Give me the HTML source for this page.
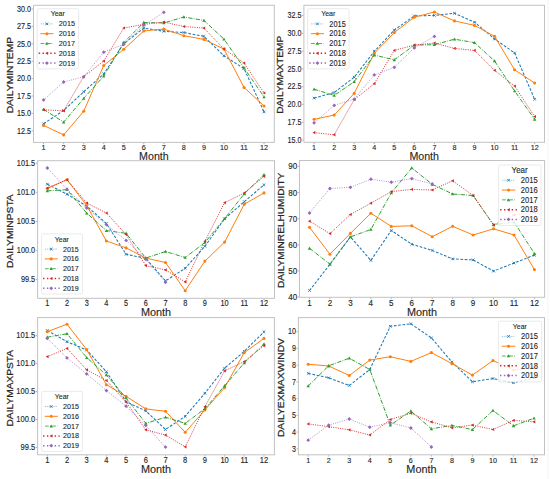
<!DOCTYPE html>
<html><head><meta charset="utf-8"><title>Monthly weather</title>
<style>
html,body{margin:0;padding:0;background:#fff;}
body{width:550px;height:479px;overflow:hidden;}
svg{display:block;font-family:"Liberation Sans",sans-serif;}
.t{stroke:#262626;stroke-width:0.12px;}
.yl{stroke:#262626;stroke-width:0.25px;}
.mo{stroke:#262626;stroke-width:0.12px;}
.lt{stroke:#262626;stroke-width:0.1px;}
</style></head>
<body>
<svg width="550" height="479" viewBox="0 0 550 479">
<rect x="0" y="0" width="550" height="479" fill="#fff"/>
<path d="M547.9 0V479" stroke="#f1f1f1" stroke-width="0.8"/>
<rect x="33.5" y="5.3" width="240.8" height="137.1" fill="#fff" stroke="#c2c2c2" stroke-width="1"/>
<path d="M43.6 142.9V144.2" stroke="#999" stroke-width="0.75"/>
<text transform="translate(43.6 150) scale(1 1.12)" text-anchor="middle" font-size="7.25" fill="#262626" class="t">1</text>
<path d="M63.64 142.9V144.2" stroke="#999" stroke-width="0.75"/>
<text transform="translate(63.64 150) scale(1 1.12)" text-anchor="middle" font-size="7.25" fill="#262626" class="t">2</text>
<path d="M83.68 142.9V144.2" stroke="#999" stroke-width="0.75"/>
<text transform="translate(83.68 150) scale(1 1.12)" text-anchor="middle" font-size="7.25" fill="#262626" class="t">3</text>
<path d="M103.72 142.9V144.2" stroke="#999" stroke-width="0.75"/>
<text transform="translate(103.72 150) scale(1 1.12)" text-anchor="middle" font-size="7.25" fill="#262626" class="t">4</text>
<path d="M123.76 142.9V144.2" stroke="#999" stroke-width="0.75"/>
<text transform="translate(123.76 150) scale(1 1.12)" text-anchor="middle" font-size="7.25" fill="#262626" class="t">5</text>
<path d="M143.8 142.9V144.2" stroke="#999" stroke-width="0.75"/>
<text transform="translate(143.8 150) scale(1 1.12)" text-anchor="middle" font-size="7.25" fill="#262626" class="t">6</text>
<path d="M163.84 142.9V144.2" stroke="#999" stroke-width="0.75"/>
<text transform="translate(163.84 150) scale(1 1.12)" text-anchor="middle" font-size="7.25" fill="#262626" class="t">7</text>
<path d="M183.88 142.9V144.2" stroke="#999" stroke-width="0.75"/>
<text transform="translate(183.88 150) scale(1 1.12)" text-anchor="middle" font-size="7.25" fill="#262626" class="t">8</text>
<path d="M203.92 142.9V144.2" stroke="#999" stroke-width="0.75"/>
<text transform="translate(203.92 150) scale(1 1.12)" text-anchor="middle" font-size="7.25" fill="#262626" class="t">9</text>
<path d="M223.96 142.9V144.2" stroke="#999" stroke-width="0.75"/>
<text transform="translate(223.96 150) scale(1 1.12)" text-anchor="middle" font-size="7.25" fill="#262626" class="t">10</text>
<path d="M244 142.9V144.2" stroke="#999" stroke-width="0.75"/>
<text transform="translate(244 150) scale(1 1.12)" text-anchor="middle" font-size="7.25" fill="#262626" class="t">11</text>
<path d="M264.04 142.9V144.2" stroke="#999" stroke-width="0.75"/>
<text transform="translate(264.04 150) scale(1 1.12)" text-anchor="middle" font-size="7.25" fill="#262626" class="t">12</text>
<path d="M33 130.8H31.7" stroke="#999" stroke-width="0.75"/>
<text transform="translate(31.1 133.56) scale(1 1.2)" text-anchor="end" font-size="7.25" fill="#262626" class="t">12.5</text>
<path d="M33 113.4H31.7" stroke="#999" stroke-width="0.75"/>
<text transform="translate(31.1 116.16) scale(1 1.2)" text-anchor="end" font-size="7.25" fill="#262626" class="t">15.0</text>
<path d="M33 96H31.7" stroke="#999" stroke-width="0.75"/>
<text transform="translate(31.1 98.75) scale(1 1.2)" text-anchor="end" font-size="7.25" fill="#262626" class="t">17.5</text>
<path d="M33 78.6H31.7" stroke="#999" stroke-width="0.75"/>
<text transform="translate(31.1 81.35) scale(1 1.2)" text-anchor="end" font-size="7.25" fill="#262626" class="t">20.0</text>
<path d="M33 61.2H31.7" stroke="#999" stroke-width="0.75"/>
<text transform="translate(31.1 63.96) scale(1 1.2)" text-anchor="end" font-size="7.25" fill="#262626" class="t">22.5</text>
<path d="M33 43.8H31.7" stroke="#999" stroke-width="0.75"/>
<text transform="translate(31.1 46.55) scale(1 1.2)" text-anchor="end" font-size="7.25" fill="#262626" class="t">25.0</text>
<path d="M33 26.4H31.7" stroke="#999" stroke-width="0.75"/>
<text transform="translate(31.1 29.15) scale(1 1.2)" text-anchor="end" font-size="7.25" fill="#262626" class="t">27.5</text>
<path d="M33 9H31.7" stroke="#999" stroke-width="0.75"/>
<text transform="translate(31.1 11.75) scale(1 1.2)" text-anchor="end" font-size="7.25" fill="#262626" class="t">30.0</text>
<text transform="translate(13 75.15) rotate(-90)" text-anchor="middle" font-size="9.8" fill="#262626" textLength="76.4" lengthAdjust="spacingAndGlyphs" class="yl">DAILYMINTEMP</text>
<text x="153.9" y="160" text-anchor="middle" font-size="10.2" fill="#262626" textLength="29.6" lengthAdjust="spacingAndGlyphs" class="mo">Month</text>
<g clip-path="none">
<path d="M43.6 123.7 L63.64 110.5 L83.68 91.8 L103.72 73.9 L123.76 43.7 L143.8 28.1 L163.84 31.3 L183.88 32.5 L203.92 36.4 L223.96 55.8 L244 68.5 L264.04 111.9" fill="none" stroke="#1f77b4" stroke-width="1.05" stroke-linejoin="round" stroke-linecap="butt" stroke-dasharray="2.7 1.6"/>
<path d="M42.3 122.4L44.9 125M42.3 125L44.9 122.4" stroke="#1f77b4" stroke-width="0.9" fill="none"/>
<path d="M62.34 109.2L64.94 111.8M62.34 111.8L64.94 109.2" stroke="#1f77b4" stroke-width="0.9" fill="none"/>
<path d="M82.38 90.5L84.98 93.1M82.38 93.1L84.98 90.5" stroke="#1f77b4" stroke-width="0.9" fill="none"/>
<path d="M102.42 72.6L105.02 75.2M102.42 75.2L105.02 72.6" stroke="#1f77b4" stroke-width="0.9" fill="none"/>
<path d="M122.46 42.4L125.06 45M122.46 45L125.06 42.4" stroke="#1f77b4" stroke-width="0.9" fill="none"/>
<path d="M142.5 26.8L145.1 29.4M142.5 29.4L145.1 26.8" stroke="#1f77b4" stroke-width="0.9" fill="none"/>
<path d="M162.54 30L165.14 32.6M162.54 32.6L165.14 30" stroke="#1f77b4" stroke-width="0.9" fill="none"/>
<path d="M182.58 31.2L185.18 33.8M182.58 33.8L185.18 31.2" stroke="#1f77b4" stroke-width="0.9" fill="none"/>
<path d="M202.62 35.1L205.22 37.7M202.62 37.7L205.22 35.1" stroke="#1f77b4" stroke-width="0.9" fill="none"/>
<path d="M222.66 54.5L225.26 57.1M222.66 57.1L225.26 54.5" stroke="#1f77b4" stroke-width="0.9" fill="none"/>
<path d="M242.7 67.2L245.3 69.8M242.7 69.8L245.3 67.2" stroke="#1f77b4" stroke-width="0.9" fill="none"/>
<path d="M262.74 110.6L265.34 113.2M262.74 113.2L265.34 110.6" stroke="#1f77b4" stroke-width="0.9" fill="none"/>
<path d="M43.6 125.4 L63.64 134.9 L83.68 111.3 L103.72 65.5 L123.76 49.3 L143.8 30.9 L163.84 29.1 L183.88 35.7 L203.92 39.4 L223.96 49.1 L244 87.4 L264.04 106" fill="none" stroke="#ff7f0e" stroke-width="1.0" stroke-linejoin="round" stroke-linecap="butt"/>
<circle cx="43.6" cy="125.4" r="1.55" fill="#ff7f0e"/>
<circle cx="63.64" cy="134.9" r="1.55" fill="#ff7f0e"/>
<circle cx="83.68" cy="111.3" r="1.55" fill="#ff7f0e"/>
<circle cx="103.72" cy="65.5" r="1.55" fill="#ff7f0e"/>
<circle cx="123.76" cy="49.3" r="1.55" fill="#ff7f0e"/>
<circle cx="143.8" cy="30.9" r="1.55" fill="#ff7f0e"/>
<circle cx="163.84" cy="29.1" r="1.55" fill="#ff7f0e"/>
<circle cx="183.88" cy="35.7" r="1.55" fill="#ff7f0e"/>
<circle cx="203.92" cy="39.4" r="1.55" fill="#ff7f0e"/>
<circle cx="223.96" cy="49.1" r="1.55" fill="#ff7f0e"/>
<circle cx="244" cy="87.4" r="1.55" fill="#ff7f0e"/>
<circle cx="264.04" cy="106" r="1.55" fill="#ff7f0e"/>
<path d="M43.6 109.4 L63.64 122.1 L83.68 98.4 L103.72 76.2 L123.76 42.5 L143.8 22.5 L163.84 23 L183.88 17 L203.92 20.4 L223.96 39.1 L244 67.8 L264.04 96.9" fill="none" stroke="#2ca02c" stroke-width="1.0" stroke-linejoin="round" stroke-linecap="butt" stroke-dasharray="4.2 1.3 0.8 1.3"/>
<path d="M43.6 107.7L45.3 110.76L41.9 110.76Z" fill="#2ca02c"/>
<path d="M63.64 120.4L65.34 123.46L61.94 123.46Z" fill="#2ca02c"/>
<path d="M83.68 96.7L85.38 99.76L81.98 99.76Z" fill="#2ca02c"/>
<path d="M103.72 74.5L105.42 77.56L102.02 77.56Z" fill="#2ca02c"/>
<path d="M123.76 40.8L125.46 43.86L122.06 43.86Z" fill="#2ca02c"/>
<path d="M143.8 20.8L145.5 23.86L142.1 23.86Z" fill="#2ca02c"/>
<path d="M163.84 21.3L165.54 24.36L162.14 24.36Z" fill="#2ca02c"/>
<path d="M183.88 15.3L185.58 18.36L182.18 18.36Z" fill="#2ca02c"/>
<path d="M203.92 18.7L205.62 21.76L202.22 21.76Z" fill="#2ca02c"/>
<path d="M223.96 37.4L225.66 40.46L222.26 40.46Z" fill="#2ca02c"/>
<path d="M244 66.1L245.7 69.16L242.3 69.16Z" fill="#2ca02c"/>
<path d="M264.04 95.2L265.74 98.26L262.34 98.26Z" fill="#2ca02c"/>
<path d="M43.6 109.8 L63.64 110.8 L83.68 76.6 L103.72 61.1 L123.76 28 L143.8 24.4 L163.84 22.1 L183.88 26.5 L203.92 28.1 L223.96 48.9 L244 63 L264.04 93" fill="none" stroke="#d62728" stroke-width="0.95" stroke-linejoin="round" stroke-linecap="butt" stroke-dasharray="1.0 1.3"/>
<path d="M42 109.8L44.88 108.2L44.88 111.4Z" fill="#d62728"/>
<path d="M62.04 110.8L64.92 109.2L64.92 112.4Z" fill="#d62728"/>
<path d="M82.08 76.6L84.96 75L84.96 78.2Z" fill="#d62728"/>
<path d="M102.12 61.1L105 59.5L105 62.7Z" fill="#d62728"/>
<path d="M122.16 28L125.04 26.4L125.04 29.6Z" fill="#d62728"/>
<path d="M142.2 24.4L145.08 22.8L145.08 26Z" fill="#d62728"/>
<path d="M162.24 22.1L165.12 20.5L165.12 23.7Z" fill="#d62728"/>
<path d="M182.28 26.5L185.16 24.9L185.16 28.1Z" fill="#d62728"/>
<path d="M202.32 28.1L205.2 26.5L205.2 29.7Z" fill="#d62728"/>
<path d="M222.36 48.9L225.24 47.3L225.24 50.5Z" fill="#d62728"/>
<path d="M242.4 63L245.28 61.4L245.28 64.6Z" fill="#d62728"/>
<path d="M262.44 93L265.32 91.4L265.32 94.6Z" fill="#d62728"/>
<path d="M43.6 99.9 L63.64 82 L83.68 76.8 L103.72 52.2 L123.76 44.4 L143.8 25.2 L163.84 12.3" fill="none" stroke="#9467bd" stroke-width="0.8" stroke-linejoin="round" stroke-linecap="butt" stroke-dasharray="0.9 1.4"/>
<path d="M43.6 98L45.5 99.9L43.6 101.8L41.7 99.9Z" fill="#9467bd"/>
<path d="M63.64 80.1L65.54 82L63.64 83.9L61.74 82Z" fill="#9467bd"/>
<path d="M83.68 74.9L85.58 76.8L83.68 78.7L81.78 76.8Z" fill="#9467bd"/>
<path d="M103.72 50.3L105.62 52.2L103.72 54.1L101.82 52.2Z" fill="#9467bd"/>
<path d="M123.76 42.5L125.66 44.4L123.76 46.3L121.86 44.4Z" fill="#9467bd"/>
<path d="M143.8 23.3L145.7 25.2L143.8 27.1L141.9 25.2Z" fill="#9467bd"/>
<path d="M163.84 10.4L165.74 12.3L163.84 14.2L161.94 12.3Z" fill="#9467bd"/>
</g>
<rect x="37.2" y="8.7" width="41.4" height="60.2" rx="1.6" fill="#fff" fill-opacity="0.82" stroke="#dcdcdc" stroke-width="0.6"/>
<text transform="translate(57.7 16.42) scale(1 1.08)" text-anchor="middle" font-size="7.0" fill="#262626" class="lt">Year</text>
<path d="M40.8 23.9H53" stroke="#1f77b4" stroke-width="1" stroke-dasharray="1.0 1.1" stroke-opacity="0.55"/>
<path d="M45.6 22.6L48.2 25.2M45.6 25.2L48.2 22.6" stroke="#1f77b4" stroke-width="0.9" fill="none"/>
<text transform="translate(58.8 26.49) scale(1 1.1)" font-size="7.3" fill="#262626" class="lt">2015</text>
<path d="M40.4 33.7H53.5" stroke="#ff7f0e" stroke-width="1.0"/>
<circle cx="46.9" cy="33.7" r="1.55" fill="#ff7f0e"/>
<text transform="translate(58.8 36.29) scale(1 1.1)" font-size="7.3" fill="#262626" class="lt">2016</text>
<path d="M40.6 43.5H53.2" stroke="#2ca02c" stroke-width="1.0" stroke-dasharray="3.7 1.3 0.9 1.3" stroke-opacity="0.8"/>
<path d="M46.9 41.8L48.6 44.86L45.2 44.86Z" fill="#2ca02c"/>
<text transform="translate(58.8 46.09) scale(1 1.1)" font-size="7.3" fill="#262626" class="lt">2017</text>
<path d="M38.7 53.3H55.5" stroke="#d62728" stroke-width="1.5" stroke-dasharray="1.4 2.45"/>
<path d="M45.3 53.3L48.18 51.7L48.18 54.9Z" fill="#d62728"/>
<text transform="translate(58.8 55.89) scale(1 1.1)" font-size="7.3" fill="#262626" class="lt">2018</text>
<path d="M38.7 63.1H55.5" stroke="#9467bd" stroke-width="1.5" stroke-dasharray="1.4 2.45"/>
<path d="M46.9 61.2L48.8 63.1L46.9 65L45 63.1Z" fill="#9467bd"/>
<text transform="translate(58.8 65.69) scale(1 1.1)" font-size="7.3" fill="#262626" class="lt">2019</text>
<rect x="303.9" y="5.3" width="240.6" height="137" fill="#fff" stroke="#c2c2c2" stroke-width="1"/>
<path d="M314.1 142.8V144.1" stroke="#999" stroke-width="0.75"/>
<text transform="translate(314.1 150) scale(1 1.12)" text-anchor="middle" font-size="7.15" fill="#262626" class="t">1</text>
<path d="M334.15 142.8V144.1" stroke="#999" stroke-width="0.75"/>
<text transform="translate(334.15 150) scale(1 1.12)" text-anchor="middle" font-size="7.15" fill="#262626" class="t">2</text>
<path d="M354.2 142.8V144.1" stroke="#999" stroke-width="0.75"/>
<text transform="translate(354.2 150) scale(1 1.12)" text-anchor="middle" font-size="7.15" fill="#262626" class="t">3</text>
<path d="M374.25 142.8V144.1" stroke="#999" stroke-width="0.75"/>
<text transform="translate(374.25 150) scale(1 1.12)" text-anchor="middle" font-size="7.15" fill="#262626" class="t">4</text>
<path d="M394.3 142.8V144.1" stroke="#999" stroke-width="0.75"/>
<text transform="translate(394.3 150) scale(1 1.12)" text-anchor="middle" font-size="7.15" fill="#262626" class="t">5</text>
<path d="M414.35 142.8V144.1" stroke="#999" stroke-width="0.75"/>
<text transform="translate(414.35 150) scale(1 1.12)" text-anchor="middle" font-size="7.15" fill="#262626" class="t">6</text>
<path d="M434.4 142.8V144.1" stroke="#999" stroke-width="0.75"/>
<text transform="translate(434.4 150) scale(1 1.12)" text-anchor="middle" font-size="7.15" fill="#262626" class="t">7</text>
<path d="M454.45 142.8V144.1" stroke="#999" stroke-width="0.75"/>
<text transform="translate(454.45 150) scale(1 1.12)" text-anchor="middle" font-size="7.15" fill="#262626" class="t">8</text>
<path d="M474.5 142.8V144.1" stroke="#999" stroke-width="0.75"/>
<text transform="translate(474.5 150) scale(1 1.12)" text-anchor="middle" font-size="7.15" fill="#262626" class="t">9</text>
<path d="M494.55 142.8V144.1" stroke="#999" stroke-width="0.75"/>
<text transform="translate(494.55 150) scale(1 1.12)" text-anchor="middle" font-size="7.15" fill="#262626" class="t">10</text>
<path d="M514.6 142.8V144.1" stroke="#999" stroke-width="0.75"/>
<text transform="translate(514.6 150) scale(1 1.12)" text-anchor="middle" font-size="7.15" fill="#262626" class="t">11</text>
<path d="M534.65 142.8V144.1" stroke="#999" stroke-width="0.75"/>
<text transform="translate(534.65 150) scale(1 1.12)" text-anchor="middle" font-size="7.15" fill="#262626" class="t">12</text>
<path d="M303.4 140.03H302.1" stroke="#999" stroke-width="0.75"/>
<text transform="translate(301.5 142.74) scale(1 1.2)" text-anchor="end" font-size="7.15" fill="#262626" class="t">15.0</text>
<path d="M303.4 122.25H302.1" stroke="#999" stroke-width="0.75"/>
<text transform="translate(301.5 124.97) scale(1 1.2)" text-anchor="end" font-size="7.15" fill="#262626" class="t">17.5</text>
<path d="M303.4 104.47H302.1" stroke="#999" stroke-width="0.75"/>
<text transform="translate(301.5 107.19) scale(1 1.2)" text-anchor="end" font-size="7.15" fill="#262626" class="t">20.0</text>
<path d="M303.4 86.7H302.1" stroke="#999" stroke-width="0.75"/>
<text transform="translate(301.5 89.42) scale(1 1.2)" text-anchor="end" font-size="7.15" fill="#262626" class="t">22.5</text>
<path d="M303.4 68.92H302.1" stroke="#999" stroke-width="0.75"/>
<text transform="translate(301.5 71.64) scale(1 1.2)" text-anchor="end" font-size="7.15" fill="#262626" class="t">25.0</text>
<path d="M303.4 51.15H302.1" stroke="#999" stroke-width="0.75"/>
<text transform="translate(301.5 53.87) scale(1 1.2)" text-anchor="end" font-size="7.15" fill="#262626" class="t">27.5</text>
<path d="M303.4 33.38H302.1" stroke="#999" stroke-width="0.75"/>
<text transform="translate(301.5 36.09) scale(1 1.2)" text-anchor="end" font-size="7.15" fill="#262626" class="t">30.0</text>
<path d="M303.4 15.6H302.1" stroke="#999" stroke-width="0.75"/>
<text transform="translate(301.5 18.32) scale(1 1.2)" text-anchor="end" font-size="7.15" fill="#262626" class="t">32.5</text>
<text transform="translate(283.3 74.85) rotate(-90)" text-anchor="middle" font-size="9.8" fill="#262626" textLength="78" lengthAdjust="spacingAndGlyphs" class="yl">DAILYMAXTEMP</text>
<text x="424.2" y="160" text-anchor="middle" font-size="10.2" fill="#262626" textLength="29.6" lengthAdjust="spacingAndGlyphs" class="mo">Month</text>
<g clip-path="none">
<path d="M314.1 98.1 L334.15 92.6 L354.2 77.2 L374.25 51.4 L394.3 30 L414.35 15.9 L434.4 15.4 L454.45 13.3 L474.5 22.2 L494.55 39 L514.6 52.9 L534.65 99.3" fill="none" stroke="#1f77b4" stroke-width="1.05" stroke-linejoin="round" stroke-linecap="butt" stroke-dasharray="2.7 1.6"/>
<path d="M312.8 96.8L315.4 99.4M312.8 99.4L315.4 96.8" stroke="#1f77b4" stroke-width="0.9" fill="none"/>
<path d="M332.85 91.3L335.45 93.9M332.85 93.9L335.45 91.3" stroke="#1f77b4" stroke-width="0.9" fill="none"/>
<path d="M352.9 75.9L355.5 78.5M352.9 78.5L355.5 75.9" stroke="#1f77b4" stroke-width="0.9" fill="none"/>
<path d="M372.95 50.1L375.55 52.7M372.95 52.7L375.55 50.1" stroke="#1f77b4" stroke-width="0.9" fill="none"/>
<path d="M393 28.7L395.6 31.3M393 31.3L395.6 28.7" stroke="#1f77b4" stroke-width="0.9" fill="none"/>
<path d="M413.05 14.6L415.65 17.2M413.05 17.2L415.65 14.6" stroke="#1f77b4" stroke-width="0.9" fill="none"/>
<path d="M433.1 14.1L435.7 16.7M433.1 16.7L435.7 14.1" stroke="#1f77b4" stroke-width="0.9" fill="none"/>
<path d="M453.15 12L455.75 14.6M453.15 14.6L455.75 12" stroke="#1f77b4" stroke-width="0.9" fill="none"/>
<path d="M473.2 20.9L475.8 23.5M473.2 23.5L475.8 20.9" stroke="#1f77b4" stroke-width="0.9" fill="none"/>
<path d="M493.25 37.7L495.85 40.3M493.25 40.3L495.85 37.7" stroke="#1f77b4" stroke-width="0.9" fill="none"/>
<path d="M513.3 51.6L515.9 54.2M513.3 54.2L515.9 51.6" stroke="#1f77b4" stroke-width="0.9" fill="none"/>
<path d="M533.35 98L535.95 100.6M533.35 100.6L535.95 98" stroke="#1f77b4" stroke-width="0.9" fill="none"/>
<path d="M314.1 119.3 L334.15 115.1 L354.2 93.4 L374.25 53.4 L394.3 32.5 L414.35 17.2 L434.4 12 L454.45 20.9 L474.5 25.4 L494.55 36.3 L514.6 69.8 L534.65 83" fill="none" stroke="#ff7f0e" stroke-width="1.0" stroke-linejoin="round" stroke-linecap="butt"/>
<circle cx="314.1" cy="119.3" r="1.55" fill="#ff7f0e"/>
<circle cx="334.15" cy="115.1" r="1.55" fill="#ff7f0e"/>
<circle cx="354.2" cy="93.4" r="1.55" fill="#ff7f0e"/>
<circle cx="374.25" cy="53.4" r="1.55" fill="#ff7f0e"/>
<circle cx="394.3" cy="32.5" r="1.55" fill="#ff7f0e"/>
<circle cx="414.35" cy="17.2" r="1.55" fill="#ff7f0e"/>
<circle cx="434.4" cy="12" r="1.55" fill="#ff7f0e"/>
<circle cx="454.45" cy="20.9" r="1.55" fill="#ff7f0e"/>
<circle cx="474.5" cy="25.4" r="1.55" fill="#ff7f0e"/>
<circle cx="494.55" cy="36.3" r="1.55" fill="#ff7f0e"/>
<circle cx="514.6" cy="69.8" r="1.55" fill="#ff7f0e"/>
<circle cx="534.65" cy="83" r="1.55" fill="#ff7f0e"/>
<path d="M314.1 89.2 L334.15 95.4 L354.2 81.7 L374.25 55.1 L394.3 59.8 L414.35 45.1 L434.4 44.7 L454.45 39.2 L474.5 42.6 L494.55 61 L514.6 91 L534.65 119.3" fill="none" stroke="#2ca02c" stroke-width="1.0" stroke-linejoin="round" stroke-linecap="butt" stroke-dasharray="4.2 1.3 0.8 1.3"/>
<path d="M314.1 87.5L315.8 90.56L312.4 90.56Z" fill="#2ca02c"/>
<path d="M334.15 93.7L335.85 96.76L332.45 96.76Z" fill="#2ca02c"/>
<path d="M354.2 80L355.9 83.06L352.5 83.06Z" fill="#2ca02c"/>
<path d="M374.25 53.4L375.95 56.46L372.55 56.46Z" fill="#2ca02c"/>
<path d="M394.3 58.1L396 61.16L392.6 61.16Z" fill="#2ca02c"/>
<path d="M414.35 43.4L416.05 46.46L412.65 46.46Z" fill="#2ca02c"/>
<path d="M434.4 43L436.1 46.06L432.7 46.06Z" fill="#2ca02c"/>
<path d="M454.45 37.5L456.15 40.56L452.75 40.56Z" fill="#2ca02c"/>
<path d="M474.5 40.9L476.2 43.96L472.8 43.96Z" fill="#2ca02c"/>
<path d="M494.55 59.3L496.25 62.36L492.85 62.36Z" fill="#2ca02c"/>
<path d="M514.6 89.3L516.3 92.36L512.9 92.36Z" fill="#2ca02c"/>
<path d="M534.65 117.6L536.35 120.66L532.95 120.66Z" fill="#2ca02c"/>
<path d="M314.1 132.6 L334.15 134.8 L354.2 99.7 L374.25 83.7 L394.3 50.4 L414.35 45.1 L434.4 43.1 L454.45 48.4 L474.5 50.4 L494.55 70.3 L514.6 86 L534.65 116.6" fill="none" stroke="#d62728" stroke-width="0.95" stroke-linejoin="round" stroke-linecap="butt" stroke-dasharray="1.0 1.3"/>
<path d="M312.5 132.6L315.38 131L315.38 134.2Z" fill="#d62728"/>
<path d="M332.55 134.8L335.43 133.2L335.43 136.4Z" fill="#d62728"/>
<path d="M352.6 99.7L355.48 98.1L355.48 101.3Z" fill="#d62728"/>
<path d="M372.65 83.7L375.53 82.1L375.53 85.3Z" fill="#d62728"/>
<path d="M392.7 50.4L395.58 48.8L395.58 52Z" fill="#d62728"/>
<path d="M412.75 45.1L415.63 43.5L415.63 46.7Z" fill="#d62728"/>
<path d="M432.8 43.1L435.68 41.5L435.68 44.7Z" fill="#d62728"/>
<path d="M452.85 48.4L455.73 46.8L455.73 50Z" fill="#d62728"/>
<path d="M472.9 50.4L475.78 48.8L475.78 52Z" fill="#d62728"/>
<path d="M492.95 70.3L495.83 68.7L495.83 71.9Z" fill="#d62728"/>
<path d="M513 86L515.88 84.4L515.88 87.6Z" fill="#d62728"/>
<path d="M533.05 116.6L535.93 115L535.93 118.2Z" fill="#d62728"/>
<path d="M314.1 122.8 L334.15 105.4 L354.2 99.2 L374.25 74.9 L394.3 67.3 L414.35 47.9 L434.4 36.4" fill="none" stroke="#9467bd" stroke-width="0.8" stroke-linejoin="round" stroke-linecap="butt" stroke-dasharray="0.9 1.4"/>
<path d="M314.1 120.9L316 122.8L314.1 124.7L312.2 122.8Z" fill="#9467bd"/>
<path d="M334.15 103.5L336.05 105.4L334.15 107.3L332.25 105.4Z" fill="#9467bd"/>
<path d="M354.2 97.3L356.1 99.2L354.2 101.1L352.3 99.2Z" fill="#9467bd"/>
<path d="M374.25 73L376.15 74.9L374.25 76.8L372.35 74.9Z" fill="#9467bd"/>
<path d="M394.3 65.4L396.2 67.3L394.3 69.2L392.4 67.3Z" fill="#9467bd"/>
<path d="M414.35 46L416.25 47.9L414.35 49.8L412.45 47.9Z" fill="#9467bd"/>
<path d="M434.4 34.5L436.3 36.4L434.4 38.3L432.5 36.4Z" fill="#9467bd"/>
</g>
<rect x="307.7" y="8.7" width="41.4" height="60.2" rx="1.6" fill="#fff" fill-opacity="0.82" stroke="#dcdcdc" stroke-width="0.6"/>
<text transform="translate(328.2 16.42) scale(1 1.08)" text-anchor="middle" font-size="7.0" fill="#262626" class="lt">Year</text>
<path d="M311.3 23.9H323.5" stroke="#1f77b4" stroke-width="1" stroke-dasharray="1.0 1.1" stroke-opacity="0.55"/>
<path d="M316.1 22.6L318.7 25.2M316.1 25.2L318.7 22.6" stroke="#1f77b4" stroke-width="0.9" fill="none"/>
<text transform="translate(329.3 26.53) scale(1 1.1)" font-size="7.4" fill="#262626" class="lt">2015</text>
<path d="M310.9 33.7H324" stroke="#ff7f0e" stroke-width="1.0"/>
<circle cx="317.4" cy="33.7" r="1.55" fill="#ff7f0e"/>
<text transform="translate(329.3 36.33) scale(1 1.1)" font-size="7.4" fill="#262626" class="lt">2016</text>
<path d="M311.1 43.5H323.7" stroke="#2ca02c" stroke-width="1.0" stroke-dasharray="3.7 1.3 0.9 1.3" stroke-opacity="0.8"/>
<path d="M317.4 41.8L319.1 44.86L315.7 44.86Z" fill="#2ca02c"/>
<text transform="translate(329.3 46.13) scale(1 1.1)" font-size="7.4" fill="#262626" class="lt">2017</text>
<path d="M309.2 53.3H326" stroke="#d62728" stroke-width="1.5" stroke-dasharray="1.4 2.45"/>
<path d="M315.8 53.3L318.68 51.7L318.68 54.9Z" fill="#d62728"/>
<text transform="translate(329.3 55.93) scale(1 1.1)" font-size="7.4" fill="#262626" class="lt">2018</text>
<path d="M309.2 63.1H326" stroke="#9467bd" stroke-width="1.5" stroke-dasharray="1.4 2.45"/>
<path d="M317.4 61.2L319.3 63.1L317.4 65L315.5 63.1Z" fill="#9467bd"/>
<text transform="translate(329.3 65.73) scale(1 1.1)" font-size="7.4" fill="#262626" class="lt">2019</text>
<rect x="37.6" y="160.7" width="236.9" height="137.6" fill="#fff" stroke="#c2c2c2" stroke-width="1"/>
<path d="M47.3 298.8V300.1" stroke="#999" stroke-width="0.75"/>
<text transform="translate(47.3 306) scale(1 1.12)" text-anchor="middle" font-size="7.35" fill="#262626" class="t">1</text>
<path d="M67 298.8V300.1" stroke="#999" stroke-width="0.75"/>
<text transform="translate(67 306) scale(1 1.12)" text-anchor="middle" font-size="7.35" fill="#262626" class="t">2</text>
<path d="M86.7 298.8V300.1" stroke="#999" stroke-width="0.75"/>
<text transform="translate(86.7 306) scale(1 1.12)" text-anchor="middle" font-size="7.35" fill="#262626" class="t">3</text>
<path d="M106.4 298.8V300.1" stroke="#999" stroke-width="0.75"/>
<text transform="translate(106.4 306) scale(1 1.12)" text-anchor="middle" font-size="7.35" fill="#262626" class="t">4</text>
<path d="M126.1 298.8V300.1" stroke="#999" stroke-width="0.75"/>
<text transform="translate(126.1 306) scale(1 1.12)" text-anchor="middle" font-size="7.35" fill="#262626" class="t">5</text>
<path d="M145.8 298.8V300.1" stroke="#999" stroke-width="0.75"/>
<text transform="translate(145.8 306) scale(1 1.12)" text-anchor="middle" font-size="7.35" fill="#262626" class="t">6</text>
<path d="M165.5 298.8V300.1" stroke="#999" stroke-width="0.75"/>
<text transform="translate(165.5 306) scale(1 1.12)" text-anchor="middle" font-size="7.35" fill="#262626" class="t">7</text>
<path d="M185.2 298.8V300.1" stroke="#999" stroke-width="0.75"/>
<text transform="translate(185.2 306) scale(1 1.12)" text-anchor="middle" font-size="7.35" fill="#262626" class="t">8</text>
<path d="M204.9 298.8V300.1" stroke="#999" stroke-width="0.75"/>
<text transform="translate(204.9 306) scale(1 1.12)" text-anchor="middle" font-size="7.35" fill="#262626" class="t">9</text>
<path d="M224.6 298.8V300.1" stroke="#999" stroke-width="0.75"/>
<text transform="translate(224.6 306) scale(1 1.12)" text-anchor="middle" font-size="7.35" fill="#262626" class="t">10</text>
<path d="M244.3 298.8V300.1" stroke="#999" stroke-width="0.75"/>
<text transform="translate(244.3 306) scale(1 1.12)" text-anchor="middle" font-size="7.35" fill="#262626" class="t">11</text>
<path d="M264 298.8V300.1" stroke="#999" stroke-width="0.75"/>
<text transform="translate(264 306) scale(1 1.12)" text-anchor="middle" font-size="7.35" fill="#262626" class="t">12</text>
<path d="M37.1 279.5H35.8" stroke="#999" stroke-width="0.75"/>
<text transform="translate(35.2 282.29) scale(1 1.2)" text-anchor="end" font-size="7.35" fill="#262626" class="t">99.5</text>
<path d="M37.1 250.45H35.8" stroke="#999" stroke-width="0.75"/>
<text transform="translate(35.2 253.24) scale(1 1.2)" text-anchor="end" font-size="7.35" fill="#262626" class="t">100.0</text>
<path d="M37.1 221.4H35.8" stroke="#999" stroke-width="0.75"/>
<text transform="translate(35.2 224.19) scale(1 1.2)" text-anchor="end" font-size="7.35" fill="#262626" class="t">100.5</text>
<path d="M37.1 192.35H35.8" stroke="#999" stroke-width="0.75"/>
<text transform="translate(35.2 195.14) scale(1 1.2)" text-anchor="end" font-size="7.35" fill="#262626" class="t">101.0</text>
<path d="M37.1 163.3H35.8" stroke="#999" stroke-width="0.75"/>
<text transform="translate(35.2 166.09) scale(1 1.2)" text-anchor="end" font-size="7.35" fill="#262626" class="t">101.5</text>
<text transform="translate(13.3 231.1) rotate(-90)" text-anchor="middle" font-size="9.8" fill="#262626" textLength="73.6" lengthAdjust="spacingAndGlyphs" class="yl">DAILYMINPSTA</text>
<text x="156.05" y="315.7" text-anchor="middle" font-size="10.2" fill="#262626" textLength="30.2" lengthAdjust="spacingAndGlyphs" class="mo">Month</text>
<g clip-path="none">
<path d="M47.3 184.2 L67 194.2 L86.7 206 L106.4 223.5 L126.1 254.3 L145.8 258.4 L165.5 280.9 L185.2 268.3 L204.9 246.3 L224.6 218.8 L244.3 201.7 L264 184.8" fill="none" stroke="#1f77b4" stroke-width="1.05" stroke-linejoin="round" stroke-linecap="butt" stroke-dasharray="2.7 1.6"/>
<path d="M46 182.9L48.6 185.5M46 185.5L48.6 182.9" stroke="#1f77b4" stroke-width="0.9" fill="none"/>
<path d="M65.7 192.9L68.3 195.5M65.7 195.5L68.3 192.9" stroke="#1f77b4" stroke-width="0.9" fill="none"/>
<path d="M85.4 204.7L88 207.3M85.4 207.3L88 204.7" stroke="#1f77b4" stroke-width="0.9" fill="none"/>
<path d="M105.1 222.2L107.7 224.8M105.1 224.8L107.7 222.2" stroke="#1f77b4" stroke-width="0.9" fill="none"/>
<path d="M124.8 253L127.4 255.6M124.8 255.6L127.4 253" stroke="#1f77b4" stroke-width="0.9" fill="none"/>
<path d="M144.5 257.1L147.1 259.7M144.5 259.7L147.1 257.1" stroke="#1f77b4" stroke-width="0.9" fill="none"/>
<path d="M164.2 279.6L166.8 282.2M164.2 282.2L166.8 279.6" stroke="#1f77b4" stroke-width="0.9" fill="none"/>
<path d="M183.9 267L186.5 269.6M183.9 269.6L186.5 267" stroke="#1f77b4" stroke-width="0.9" fill="none"/>
<path d="M203.6 245L206.2 247.6M203.6 247.6L206.2 245" stroke="#1f77b4" stroke-width="0.9" fill="none"/>
<path d="M223.3 217.5L225.9 220.1M223.3 220.1L225.9 217.5" stroke="#1f77b4" stroke-width="0.9" fill="none"/>
<path d="M243 200.4L245.6 203M243 203L245.6 200.4" stroke="#1f77b4" stroke-width="0.9" fill="none"/>
<path d="M262.7 183.5L265.3 186.1M262.7 186.1L265.3 183.5" stroke="#1f77b4" stroke-width="0.9" fill="none"/>
<path d="M47.3 188.5 L67 179.7 L86.7 205.5 L106.4 241 L126.1 247.9 L145.8 258.1 L165.5 262.5 L185.2 290.7 L204.9 261.1 L224.6 242.1 L244.3 204.2 L264 192.9" fill="none" stroke="#ff7f0e" stroke-width="1.0" stroke-linejoin="round" stroke-linecap="butt"/>
<circle cx="47.3" cy="188.5" r="1.55" fill="#ff7f0e"/>
<circle cx="67" cy="179.7" r="1.55" fill="#ff7f0e"/>
<circle cx="86.7" cy="205.5" r="1.55" fill="#ff7f0e"/>
<circle cx="106.4" cy="241" r="1.55" fill="#ff7f0e"/>
<circle cx="126.1" cy="247.9" r="1.55" fill="#ff7f0e"/>
<circle cx="145.8" cy="258.1" r="1.55" fill="#ff7f0e"/>
<circle cx="165.5" cy="262.5" r="1.55" fill="#ff7f0e"/>
<circle cx="185.2" cy="290.7" r="1.55" fill="#ff7f0e"/>
<circle cx="204.9" cy="261.1" r="1.55" fill="#ff7f0e"/>
<circle cx="224.6" cy="242.1" r="1.55" fill="#ff7f0e"/>
<circle cx="244.3" cy="204.2" r="1.55" fill="#ff7f0e"/>
<circle cx="264" cy="192.9" r="1.55" fill="#ff7f0e"/>
<path d="M47.3 190.9 L67 189.7 L86.7 213.1 L106.4 230.6 L126.1 233.3 L145.8 258.1 L165.5 251.5 L185.2 257.5 L204.9 242.5 L224.6 218.6 L244.3 193.8 L264 174.7" fill="none" stroke="#2ca02c" stroke-width="1.0" stroke-linejoin="round" stroke-linecap="butt" stroke-dasharray="4.2 1.3 0.8 1.3"/>
<path d="M47.3 189.2L49 192.26L45.6 192.26Z" fill="#2ca02c"/>
<path d="M67 188L68.7 191.06L65.3 191.06Z" fill="#2ca02c"/>
<path d="M86.7 211.4L88.4 214.46L85 214.46Z" fill="#2ca02c"/>
<path d="M106.4 228.9L108.1 231.96L104.7 231.96Z" fill="#2ca02c"/>
<path d="M126.1 231.6L127.8 234.66L124.4 234.66Z" fill="#2ca02c"/>
<path d="M145.8 256.4L147.5 259.46L144.1 259.46Z" fill="#2ca02c"/>
<path d="M165.5 249.8L167.2 252.86L163.8 252.86Z" fill="#2ca02c"/>
<path d="M185.2 255.8L186.9 258.86L183.5 258.86Z" fill="#2ca02c"/>
<path d="M204.9 240.8L206.6 243.86L203.2 243.86Z" fill="#2ca02c"/>
<path d="M224.6 216.9L226.3 219.96L222.9 219.96Z" fill="#2ca02c"/>
<path d="M244.3 192.1L246 195.16L242.6 195.16Z" fill="#2ca02c"/>
<path d="M264 173L265.7 176.06L262.3 176.06Z" fill="#2ca02c"/>
<path d="M47.3 188 L67 179.7 L86.7 203 L106.4 213 L126.1 234.6 L145.8 265.6 L165.5 269.9 L185.2 281.9 L204.9 241.2 L224.6 202.7 L244.3 192.9 L264 176.4" fill="none" stroke="#d62728" stroke-width="0.95" stroke-linejoin="round" stroke-linecap="butt" stroke-dasharray="1.0 1.3"/>
<path d="M45.7 188L48.58 186.4L48.58 189.6Z" fill="#d62728"/>
<path d="M65.4 179.7L68.28 178.1L68.28 181.3Z" fill="#d62728"/>
<path d="M85.1 203L87.98 201.4L87.98 204.6Z" fill="#d62728"/>
<path d="M104.8 213L107.68 211.4L107.68 214.6Z" fill="#d62728"/>
<path d="M124.5 234.6L127.38 233L127.38 236.2Z" fill="#d62728"/>
<path d="M144.2 265.6L147.08 264L147.08 267.2Z" fill="#d62728"/>
<path d="M163.9 269.9L166.78 268.3L166.78 271.5Z" fill="#d62728"/>
<path d="M183.6 281.9L186.48 280.3L186.48 283.5Z" fill="#d62728"/>
<path d="M203.3 241.2L206.18 239.6L206.18 242.8Z" fill="#d62728"/>
<path d="M223 202.7L225.88 201.1L225.88 204.3Z" fill="#d62728"/>
<path d="M242.7 192.9L245.58 191.3L245.58 194.5Z" fill="#d62728"/>
<path d="M262.4 176.4L265.28 174.8L265.28 178Z" fill="#d62728"/>
<path d="M47.3 168 L67 189.2 L86.7 208 L106.4 224.7 L126.1 240.4 L145.8 259.3 L165.5 282.3" fill="none" stroke="#9467bd" stroke-width="0.8" stroke-linejoin="round" stroke-linecap="butt" stroke-dasharray="0.9 1.4"/>
<path d="M47.3 166.1L49.2 168L47.3 169.9L45.4 168Z" fill="#9467bd"/>
<path d="M67 187.3L68.9 189.2L67 191.1L65.1 189.2Z" fill="#9467bd"/>
<path d="M86.7 206.1L88.6 208L86.7 209.9L84.8 208Z" fill="#9467bd"/>
<path d="M106.4 222.8L108.3 224.7L106.4 226.6L104.5 224.7Z" fill="#9467bd"/>
<path d="M126.1 238.5L128 240.4L126.1 242.3L124.2 240.4Z" fill="#9467bd"/>
<path d="M145.8 257.4L147.7 259.3L145.8 261.2L143.9 259.3Z" fill="#9467bd"/>
<path d="M165.5 280.4L167.4 282.3L165.5 284.2L163.6 282.3Z" fill="#9467bd"/>
</g>
<rect x="41.6" y="233.9" width="40.98" height="60.08" rx="1.6" fill="#fff" fill-opacity="0.82" stroke="#dcdcdc" stroke-width="0.6"/>
<text transform="translate(61.89 241.56) scale(1 1.08)" text-anchor="middle" font-size="7.0" fill="#262626" class="lt">Year</text>
<path d="M45.16 249.1H57.24" stroke="#1f77b4" stroke-width="1" stroke-dasharray="1.0 1.1" stroke-opacity="0.55"/>
<path d="M49.9 247.8L52.5 250.4M49.9 250.4L52.5 247.8" stroke="#1f77b4" stroke-width="0.9" fill="none"/>
<text transform="translate(62.98 251.62) scale(1 1.1)" font-size="7.1" fill="#262626" class="lt">2015</text>
<path d="M44.76 258.9H57.73" stroke="#ff7f0e" stroke-width="1.0"/>
<circle cx="51.2" cy="258.9" r="1.55" fill="#ff7f0e"/>
<text transform="translate(62.98 261.42) scale(1 1.1)" font-size="7.1" fill="#262626" class="lt">2016</text>
<path d="M44.96 268.7H57.44" stroke="#2ca02c" stroke-width="1.0" stroke-dasharray="3.7 1.3 0.9 1.3" stroke-opacity="0.8"/>
<path d="M51.2 267L52.9 270.06L49.5 270.06Z" fill="#2ca02c"/>
<text transform="translate(62.98 271.22) scale(1 1.1)" font-size="7.1" fill="#262626" class="lt">2017</text>
<path d="M43.08 278.5H59.71" stroke="#d62728" stroke-width="1.5" stroke-dasharray="1.4 2.45"/>
<path d="M49.6 278.5L52.48 276.9L52.48 280.1Z" fill="#d62728"/>
<text transform="translate(62.98 281.02) scale(1 1.1)" font-size="7.1" fill="#262626" class="lt">2018</text>
<path d="M43.08 288.3H59.71" stroke="#9467bd" stroke-width="1.5" stroke-dasharray="1.4 2.45"/>
<path d="M51.2 286.4L53.1 288.3L51.2 290.2L49.3 288.3Z" fill="#9467bd"/>
<text transform="translate(62.98 290.82) scale(1 1.1)" font-size="7.1" fill="#262626" class="lt">2019</text>
<rect x="299.5" y="160.5" width="245.1" height="136.8" fill="#fff" stroke="#c2c2c2" stroke-width="1"/>
<path d="M309.5 297.8V299.1" stroke="#999" stroke-width="0.75"/>
<text transform="translate(309.5 305.7) scale(1 1.12)" text-anchor="middle" font-size="8.05" fill="#262626" class="t">1</text>
<path d="M329.95 297.8V299.1" stroke="#999" stroke-width="0.75"/>
<text transform="translate(329.95 305.7) scale(1 1.12)" text-anchor="middle" font-size="8.05" fill="#262626" class="t">2</text>
<path d="M350.4 297.8V299.1" stroke="#999" stroke-width="0.75"/>
<text transform="translate(350.4 305.7) scale(1 1.12)" text-anchor="middle" font-size="8.05" fill="#262626" class="t">3</text>
<path d="M370.85 297.8V299.1" stroke="#999" stroke-width="0.75"/>
<text transform="translate(370.85 305.7) scale(1 1.12)" text-anchor="middle" font-size="8.05" fill="#262626" class="t">4</text>
<path d="M391.3 297.8V299.1" stroke="#999" stroke-width="0.75"/>
<text transform="translate(391.3 305.7) scale(1 1.12)" text-anchor="middle" font-size="8.05" fill="#262626" class="t">5</text>
<path d="M411.75 297.8V299.1" stroke="#999" stroke-width="0.75"/>
<text transform="translate(411.75 305.7) scale(1 1.12)" text-anchor="middle" font-size="8.05" fill="#262626" class="t">6</text>
<path d="M432.2 297.8V299.1" stroke="#999" stroke-width="0.75"/>
<text transform="translate(432.2 305.7) scale(1 1.12)" text-anchor="middle" font-size="8.05" fill="#262626" class="t">7</text>
<path d="M452.65 297.8V299.1" stroke="#999" stroke-width="0.75"/>
<text transform="translate(452.65 305.7) scale(1 1.12)" text-anchor="middle" font-size="8.05" fill="#262626" class="t">8</text>
<path d="M473.1 297.8V299.1" stroke="#999" stroke-width="0.75"/>
<text transform="translate(473.1 305.7) scale(1 1.12)" text-anchor="middle" font-size="8.05" fill="#262626" class="t">9</text>
<path d="M493.55 297.8V299.1" stroke="#999" stroke-width="0.75"/>
<text transform="translate(493.55 305.7) scale(1 1.12)" text-anchor="middle" font-size="8.05" fill="#262626" class="t">10</text>
<path d="M514 297.8V299.1" stroke="#999" stroke-width="0.75"/>
<text transform="translate(514 305.7) scale(1 1.12)" text-anchor="middle" font-size="8.05" fill="#262626" class="t">11</text>
<path d="M534.45 297.8V299.1" stroke="#999" stroke-width="0.75"/>
<text transform="translate(534.45 305.7) scale(1 1.12)" text-anchor="middle" font-size="8.05" fill="#262626" class="t">12</text>
<path d="M299 297H297.7" stroke="#999" stroke-width="0.75"/>
<text transform="translate(297.1 300.06) scale(1 1.2)" text-anchor="end" font-size="8.05" fill="#262626" class="t">40</text>
<path d="M299 270.88H297.7" stroke="#999" stroke-width="0.75"/>
<text transform="translate(297.1 273.94) scale(1 1.2)" text-anchor="end" font-size="8.05" fill="#262626" class="t">50</text>
<path d="M299 244.76H297.7" stroke="#999" stroke-width="0.75"/>
<text transform="translate(297.1 247.82) scale(1 1.2)" text-anchor="end" font-size="8.05" fill="#262626" class="t">60</text>
<path d="M299 218.64H297.7" stroke="#999" stroke-width="0.75"/>
<text transform="translate(297.1 221.7) scale(1 1.2)" text-anchor="end" font-size="8.05" fill="#262626" class="t">70</text>
<path d="M299 192.52H297.7" stroke="#999" stroke-width="0.75"/>
<text transform="translate(297.1 195.58) scale(1 1.2)" text-anchor="end" font-size="8.05" fill="#262626" class="t">80</text>
<path d="M299 166.4H297.7" stroke="#999" stroke-width="0.75"/>
<text transform="translate(297.1 169.46) scale(1 1.2)" text-anchor="end" font-size="8.05" fill="#262626" class="t">90</text>
<text transform="translate(283.6 230.4) rotate(-90)" text-anchor="middle" font-size="9.8" fill="#262626" textLength="115.4" lengthAdjust="spacingAndGlyphs" class="yl">DAILYMINRELHUMIDITY</text>
<text x="422.05" y="315.7" text-anchor="middle" font-size="10.2" fill="#262626" textLength="30.2" lengthAdjust="spacingAndGlyphs" class="mo">Month</text>
<g clip-path="none">
<path d="M309.5 290.5 L329.95 264.3 L350.4 236.9 L370.85 260.4 L391.3 230.5 L411.75 244.2 L432.2 250.4 L452.65 258.9 L473.1 259.9 L493.55 271.1 L514 263 L534.45 255.1" fill="none" stroke="#1f77b4" stroke-width="1.05" stroke-linejoin="round" stroke-linecap="butt" stroke-dasharray="2.7 1.6"/>
<path d="M308.2 289.2L310.8 291.8M308.2 291.8L310.8 289.2" stroke="#1f77b4" stroke-width="0.9" fill="none"/>
<path d="M328.65 263L331.25 265.6M328.65 265.6L331.25 263" stroke="#1f77b4" stroke-width="0.9" fill="none"/>
<path d="M349.1 235.6L351.7 238.2M349.1 238.2L351.7 235.6" stroke="#1f77b4" stroke-width="0.9" fill="none"/>
<path d="M369.55 259.1L372.15 261.7M369.55 261.7L372.15 259.1" stroke="#1f77b4" stroke-width="0.9" fill="none"/>
<path d="M390 229.2L392.6 231.8M390 231.8L392.6 229.2" stroke="#1f77b4" stroke-width="0.9" fill="none"/>
<path d="M410.45 242.9L413.05 245.5M410.45 245.5L413.05 242.9" stroke="#1f77b4" stroke-width="0.9" fill="none"/>
<path d="M430.9 249.1L433.5 251.7M430.9 251.7L433.5 249.1" stroke="#1f77b4" stroke-width="0.9" fill="none"/>
<path d="M451.35 257.6L453.95 260.2M451.35 260.2L453.95 257.6" stroke="#1f77b4" stroke-width="0.9" fill="none"/>
<path d="M471.8 258.6L474.4 261.2M471.8 261.2L474.4 258.6" stroke="#1f77b4" stroke-width="0.9" fill="none"/>
<path d="M492.25 269.8L494.85 272.4M492.25 272.4L494.85 269.8" stroke="#1f77b4" stroke-width="0.9" fill="none"/>
<path d="M512.7 261.7L515.3 264.3M512.7 264.3L515.3 261.7" stroke="#1f77b4" stroke-width="0.9" fill="none"/>
<path d="M533.15 253.8L535.75 256.4M533.15 256.4L535.75 253.8" stroke="#1f77b4" stroke-width="0.9" fill="none"/>
<path d="M309.5 227.3 L329.95 254.2 L350.4 233.4 L370.85 213.2 L391.3 226.4 L411.75 225.8 L432.2 236.7 L452.65 226.3 L473.1 235 L493.55 228.8 L514 235 L534.45 269.6" fill="none" stroke="#ff7f0e" stroke-width="1.0" stroke-linejoin="round" stroke-linecap="butt"/>
<circle cx="309.5" cy="227.3" r="1.55" fill="#ff7f0e"/>
<circle cx="329.95" cy="254.2" r="1.55" fill="#ff7f0e"/>
<circle cx="350.4" cy="233.4" r="1.55" fill="#ff7f0e"/>
<circle cx="370.85" cy="213.2" r="1.55" fill="#ff7f0e"/>
<circle cx="391.3" cy="226.4" r="1.55" fill="#ff7f0e"/>
<circle cx="411.75" cy="225.8" r="1.55" fill="#ff7f0e"/>
<circle cx="432.2" cy="236.7" r="1.55" fill="#ff7f0e"/>
<circle cx="452.65" cy="226.3" r="1.55" fill="#ff7f0e"/>
<circle cx="473.1" cy="235" r="1.55" fill="#ff7f0e"/>
<circle cx="493.55" cy="228.8" r="1.55" fill="#ff7f0e"/>
<circle cx="514" cy="235" r="1.55" fill="#ff7f0e"/>
<circle cx="534.45" cy="269.6" r="1.55" fill="#ff7f0e"/>
<path d="M309.5 248.3 L329.95 264.1 L350.4 236.9 L370.85 229.5 L391.3 192.9 L411.75 167.9 L432.2 184.3 L452.65 194 L473.1 195.5 L493.55 224.8 L514 222 L534.45 253.6" fill="none" stroke="#2ca02c" stroke-width="1.0" stroke-linejoin="round" stroke-linecap="butt" stroke-dasharray="4.2 1.3 0.8 1.3"/>
<path d="M309.5 246.6L311.2 249.66L307.8 249.66Z" fill="#2ca02c"/>
<path d="M329.95 262.4L331.65 265.46L328.25 265.46Z" fill="#2ca02c"/>
<path d="M350.4 235.2L352.1 238.26L348.7 238.26Z" fill="#2ca02c"/>
<path d="M370.85 227.8L372.55 230.86L369.15 230.86Z" fill="#2ca02c"/>
<path d="M391.3 191.2L393 194.26L389.6 194.26Z" fill="#2ca02c"/>
<path d="M411.75 166.2L413.45 169.26L410.05 169.26Z" fill="#2ca02c"/>
<path d="M432.2 182.6L433.9 185.66L430.5 185.66Z" fill="#2ca02c"/>
<path d="M452.65 192.3L454.35 195.36L450.95 195.36Z" fill="#2ca02c"/>
<path d="M473.1 193.8L474.8 196.86L471.4 196.86Z" fill="#2ca02c"/>
<path d="M493.55 223.1L495.25 226.16L491.85 226.16Z" fill="#2ca02c"/>
<path d="M514 220.3L515.7 223.36L512.3 223.36Z" fill="#2ca02c"/>
<path d="M534.45 251.9L536.15 254.96L532.75 254.96Z" fill="#2ca02c"/>
<path d="M309.5 221.2 L329.95 233.6 L350.4 214.5 L370.85 203.2 L391.3 191.6 L411.75 189.4 L432.2 190 L452.65 180.8 L473.1 195.5 L493.55 225 L514 215 L534.45 212.4" fill="none" stroke="#d62728" stroke-width="0.95" stroke-linejoin="round" stroke-linecap="butt" stroke-dasharray="1.0 1.3"/>
<path d="M307.9 221.2L310.78 219.6L310.78 222.8Z" fill="#d62728"/>
<path d="M328.35 233.6L331.23 232L331.23 235.2Z" fill="#d62728"/>
<path d="M348.8 214.5L351.68 212.9L351.68 216.1Z" fill="#d62728"/>
<path d="M369.25 203.2L372.13 201.6L372.13 204.8Z" fill="#d62728"/>
<path d="M389.7 191.6L392.58 190L392.58 193.2Z" fill="#d62728"/>
<path d="M410.15 189.4L413.03 187.8L413.03 191Z" fill="#d62728"/>
<path d="M430.6 190L433.48 188.4L433.48 191.6Z" fill="#d62728"/>
<path d="M451.05 180.8L453.93 179.2L453.93 182.4Z" fill="#d62728"/>
<path d="M471.5 195.5L474.38 193.9L474.38 197.1Z" fill="#d62728"/>
<path d="M491.95 225L494.83 223.4L494.83 226.6Z" fill="#d62728"/>
<path d="M512.4 215L515.28 213.4L515.28 216.6Z" fill="#d62728"/>
<path d="M532.85 212.4L535.73 210.8L535.73 214Z" fill="#d62728"/>
<path d="M309.5 213 L329.95 188.5 L350.4 187.3 L370.85 179.2 L391.3 182.2 L411.75 178.6 L432.2 184" fill="none" stroke="#9467bd" stroke-width="0.8" stroke-linejoin="round" stroke-linecap="butt" stroke-dasharray="0.9 1.4"/>
<path d="M309.5 211.1L311.4 213L309.5 214.9L307.6 213Z" fill="#9467bd"/>
<path d="M329.95 186.6L331.85 188.5L329.95 190.4L328.05 188.5Z" fill="#9467bd"/>
<path d="M350.4 185.4L352.3 187.3L350.4 189.2L348.5 187.3Z" fill="#9467bd"/>
<path d="M370.85 177.3L372.75 179.2L370.85 181.1L368.95 179.2Z" fill="#9467bd"/>
<path d="M391.3 180.3L393.2 182.2L391.3 184.1L389.4 182.2Z" fill="#9467bd"/>
<path d="M411.75 176.7L413.65 178.6L411.75 180.5L409.85 178.6Z" fill="#9467bd"/>
<path d="M432.2 182.1L434.1 184L432.2 185.9L430.3 184Z" fill="#9467bd"/>
</g>
<rect x="498.6" y="165.05" width="42.45" height="60.5" rx="1.6" fill="#fff" fill-opacity="0.82" stroke="#dcdcdc" stroke-width="0.6"/>
<text transform="translate(519.62 173.27) scale(1 1.08)" text-anchor="middle" font-size="8.0" fill="#262626" class="lt">Year</text>
<path d="M502.3 180.25H514.8" stroke="#1f77b4" stroke-width="1" stroke-dasharray="1.0 1.1" stroke-opacity="0.55"/>
<path d="M507.25 178.95L509.85 181.55M507.25 181.55L509.85 178.95" stroke="#1f77b4" stroke-width="0.9" fill="none"/>
<text transform="translate(520.75 182.95) scale(1 1.1)" font-size="7.6" fill="#262626" class="lt">2015</text>
<path d="M501.89 190.05H515.32" stroke="#ff7f0e" stroke-width="1.0"/>
<circle cx="508.55" cy="190.05" r="1.55" fill="#ff7f0e"/>
<text transform="translate(520.75 192.75) scale(1 1.1)" font-size="7.6" fill="#262626" class="lt">2016</text>
<path d="M502.09 199.85H515.01" stroke="#2ca02c" stroke-width="1.0" stroke-dasharray="3.7 1.3 0.9 1.3" stroke-opacity="0.8"/>
<path d="M508.55 198.15L510.25 201.21L506.85 201.21Z" fill="#2ca02c"/>
<text transform="translate(520.75 202.55) scale(1 1.1)" font-size="7.6" fill="#262626" class="lt">2017</text>
<path d="M500.15 209.65H517.37" stroke="#d62728" stroke-width="1.5" stroke-dasharray="1.4 2.45"/>
<path d="M506.95 209.65L509.83 208.05L509.83 211.25Z" fill="#d62728"/>
<text transform="translate(520.75 212.35) scale(1 1.1)" font-size="7.6" fill="#262626" class="lt">2018</text>
<path d="M500.15 219.45H517.37" stroke="#9467bd" stroke-width="1.5" stroke-dasharray="1.4 2.45"/>
<path d="M508.55 217.55L510.45 219.45L508.55 221.35L506.65 219.45Z" fill="#9467bd"/>
<text transform="translate(520.75 222.15) scale(1 1.1)" font-size="7.6" fill="#262626" class="lt">2019</text>
<rect x="37.6" y="317.6" width="236.8" height="137.2" fill="#fff" stroke="#c2c2c2" stroke-width="1"/>
<path d="M47.3 455.3V456.6" stroke="#999" stroke-width="0.75"/>
<text transform="translate(47.3 462.8) scale(1 1.12)" text-anchor="middle" font-size="7.55" fill="#262626" class="t">1</text>
<path d="M67 455.3V456.6" stroke="#999" stroke-width="0.75"/>
<text transform="translate(67 462.8) scale(1 1.12)" text-anchor="middle" font-size="7.55" fill="#262626" class="t">2</text>
<path d="M86.7 455.3V456.6" stroke="#999" stroke-width="0.75"/>
<text transform="translate(86.7 462.8) scale(1 1.12)" text-anchor="middle" font-size="7.55" fill="#262626" class="t">3</text>
<path d="M106.4 455.3V456.6" stroke="#999" stroke-width="0.75"/>
<text transform="translate(106.4 462.8) scale(1 1.12)" text-anchor="middle" font-size="7.55" fill="#262626" class="t">4</text>
<path d="M126.1 455.3V456.6" stroke="#999" stroke-width="0.75"/>
<text transform="translate(126.1 462.8) scale(1 1.12)" text-anchor="middle" font-size="7.55" fill="#262626" class="t">5</text>
<path d="M145.8 455.3V456.6" stroke="#999" stroke-width="0.75"/>
<text transform="translate(145.8 462.8) scale(1 1.12)" text-anchor="middle" font-size="7.55" fill="#262626" class="t">6</text>
<path d="M165.5 455.3V456.6" stroke="#999" stroke-width="0.75"/>
<text transform="translate(165.5 462.8) scale(1 1.12)" text-anchor="middle" font-size="7.55" fill="#262626" class="t">7</text>
<path d="M185.2 455.3V456.6" stroke="#999" stroke-width="0.75"/>
<text transform="translate(185.2 462.8) scale(1 1.12)" text-anchor="middle" font-size="7.55" fill="#262626" class="t">8</text>
<path d="M204.9 455.3V456.6" stroke="#999" stroke-width="0.75"/>
<text transform="translate(204.9 462.8) scale(1 1.12)" text-anchor="middle" font-size="7.55" fill="#262626" class="t">9</text>
<path d="M224.6 455.3V456.6" stroke="#999" stroke-width="0.75"/>
<text transform="translate(224.6 462.8) scale(1 1.12)" text-anchor="middle" font-size="7.55" fill="#262626" class="t">10</text>
<path d="M244.3 455.3V456.6" stroke="#999" stroke-width="0.75"/>
<text transform="translate(244.3 462.8) scale(1 1.12)" text-anchor="middle" font-size="7.55" fill="#262626" class="t">11</text>
<path d="M264 455.3V456.6" stroke="#999" stroke-width="0.75"/>
<text transform="translate(264 462.8) scale(1 1.12)" text-anchor="middle" font-size="7.55" fill="#262626" class="t">12</text>
<path d="M37.1 447.5H35.8" stroke="#999" stroke-width="0.75"/>
<text transform="translate(35.2 450.37) scale(1 1.2)" text-anchor="end" font-size="7.55" fill="#262626" class="t">99.5</text>
<path d="M37.1 419.53H35.8" stroke="#999" stroke-width="0.75"/>
<text transform="translate(35.2 422.39) scale(1 1.2)" text-anchor="end" font-size="7.55" fill="#262626" class="t">100.0</text>
<path d="M37.1 391.55H35.8" stroke="#999" stroke-width="0.75"/>
<text transform="translate(35.2 394.42) scale(1 1.2)" text-anchor="end" font-size="7.55" fill="#262626" class="t">100.5</text>
<path d="M37.1 363.58H35.8" stroke="#999" stroke-width="0.75"/>
<text transform="translate(35.2 366.44) scale(1 1.2)" text-anchor="end" font-size="7.55" fill="#262626" class="t">101.0</text>
<path d="M37.1 335.6H35.8" stroke="#999" stroke-width="0.75"/>
<text transform="translate(35.2 338.47) scale(1 1.2)" text-anchor="end" font-size="7.55" fill="#262626" class="t">101.5</text>
<text transform="translate(13.3 388.2) rotate(-90)" text-anchor="middle" font-size="9.8" fill="#262626" textLength="76.6" lengthAdjust="spacingAndGlyphs" class="yl">DAILYMAXPSTA</text>
<text x="156" y="472.8" text-anchor="middle" font-size="10.2" fill="#262626" textLength="30.2" lengthAdjust="spacingAndGlyphs" class="mo">Month</text>
<g clip-path="none">
<path d="M47.3 330.5 L67 341.7 L86.7 350 L106.4 371.7 L126.1 401.7 L145.8 410.9 L165.5 429.5 L185.2 416.4 L204.9 393.2 L224.6 368.2 L244.3 351.3 L264 331.8" fill="none" stroke="#1f77b4" stroke-width="1.05" stroke-linejoin="round" stroke-linecap="butt" stroke-dasharray="2.7 1.6"/>
<path d="M46 329.2L48.6 331.8M46 331.8L48.6 329.2" stroke="#1f77b4" stroke-width="0.9" fill="none"/>
<path d="M65.7 340.4L68.3 343M65.7 343L68.3 340.4" stroke="#1f77b4" stroke-width="0.9" fill="none"/>
<path d="M85.4 348.7L88 351.3M85.4 351.3L88 348.7" stroke="#1f77b4" stroke-width="0.9" fill="none"/>
<path d="M105.1 370.4L107.7 373M105.1 373L107.7 370.4" stroke="#1f77b4" stroke-width="0.9" fill="none"/>
<path d="M124.8 400.4L127.4 403M124.8 403L127.4 400.4" stroke="#1f77b4" stroke-width="0.9" fill="none"/>
<path d="M144.5 409.6L147.1 412.2M144.5 412.2L147.1 409.6" stroke="#1f77b4" stroke-width="0.9" fill="none"/>
<path d="M164.2 428.2L166.8 430.8M164.2 430.8L166.8 428.2" stroke="#1f77b4" stroke-width="0.9" fill="none"/>
<path d="M183.9 415.1L186.5 417.7M183.9 417.7L186.5 415.1" stroke="#1f77b4" stroke-width="0.9" fill="none"/>
<path d="M203.6 391.9L206.2 394.5M203.6 394.5L206.2 391.9" stroke="#1f77b4" stroke-width="0.9" fill="none"/>
<path d="M223.3 366.9L225.9 369.5M223.3 369.5L225.9 366.9" stroke="#1f77b4" stroke-width="0.9" fill="none"/>
<path d="M243 350L245.6 352.6M243 352.6L245.6 350" stroke="#1f77b4" stroke-width="0.9" fill="none"/>
<path d="M262.7 330.5L265.3 333.1M262.7 333.1L265.3 330.5" stroke="#1f77b4" stroke-width="0.9" fill="none"/>
<path d="M47.3 331.7 L67 324.2 L86.7 349.6 L106.4 384.7 L126.1 396.4 L145.8 408.9 L165.5 411.3 L185.2 432.3 L204.9 410 L224.6 387.6 L244.3 352.6 L264 338.4" fill="none" stroke="#ff7f0e" stroke-width="1.0" stroke-linejoin="round" stroke-linecap="butt"/>
<circle cx="47.3" cy="331.7" r="1.55" fill="#ff7f0e"/>
<circle cx="67" cy="324.2" r="1.55" fill="#ff7f0e"/>
<circle cx="86.7" cy="349.6" r="1.55" fill="#ff7f0e"/>
<circle cx="106.4" cy="384.7" r="1.55" fill="#ff7f0e"/>
<circle cx="126.1" cy="396.4" r="1.55" fill="#ff7f0e"/>
<circle cx="145.8" cy="408.9" r="1.55" fill="#ff7f0e"/>
<circle cx="165.5" cy="411.3" r="1.55" fill="#ff7f0e"/>
<circle cx="185.2" cy="432.3" r="1.55" fill="#ff7f0e"/>
<circle cx="204.9" cy="410" r="1.55" fill="#ff7f0e"/>
<circle cx="224.6" cy="387.6" r="1.55" fill="#ff7f0e"/>
<circle cx="244.3" cy="352.6" r="1.55" fill="#ff7f0e"/>
<circle cx="264" cy="338.4" r="1.55" fill="#ff7f0e"/>
<path d="M47.3 337.2 L67 333.7 L86.7 357.6 L106.4 375 L126.1 398 L145.8 423.4 L165.5 417.2 L185.2 423.4 L204.9 408.7 L224.6 385.8 L244.3 362.9 L264 343.9" fill="none" stroke="#2ca02c" stroke-width="1.0" stroke-linejoin="round" stroke-linecap="butt" stroke-dasharray="4.2 1.3 0.8 1.3"/>
<path d="M47.3 335.5L49 338.56L45.6 338.56Z" fill="#2ca02c"/>
<path d="M67 332L68.7 335.06L65.3 335.06Z" fill="#2ca02c"/>
<path d="M86.7 355.9L88.4 358.96L85 358.96Z" fill="#2ca02c"/>
<path d="M106.4 373.3L108.1 376.36L104.7 376.36Z" fill="#2ca02c"/>
<path d="M126.1 396.3L127.8 399.36L124.4 399.36Z" fill="#2ca02c"/>
<path d="M145.8 421.7L147.5 424.76L144.1 424.76Z" fill="#2ca02c"/>
<path d="M165.5 415.5L167.2 418.56L163.8 418.56Z" fill="#2ca02c"/>
<path d="M185.2 421.7L186.9 424.76L183.5 424.76Z" fill="#2ca02c"/>
<path d="M204.9 407L206.6 410.06L203.2 410.06Z" fill="#2ca02c"/>
<path d="M224.6 384.1L226.3 387.16L222.9 387.16Z" fill="#2ca02c"/>
<path d="M244.3 361.2L246 364.26L242.6 364.26Z" fill="#2ca02c"/>
<path d="M264 342.2L265.7 345.26L262.3 345.26Z" fill="#2ca02c"/>
<path d="M47.3 356.7 L67 348.4 L86.7 369.8 L106.4 380.5 L126.1 402 L145.8 429.8 L165.5 435.1 L185.2 446.8 L204.9 406.7 L224.6 370.9 L244.3 361.5 L264 345.7" fill="none" stroke="#d62728" stroke-width="0.95" stroke-linejoin="round" stroke-linecap="butt" stroke-dasharray="1.0 1.3"/>
<path d="M45.7 356.7L48.58 355.1L48.58 358.3Z" fill="#d62728"/>
<path d="M65.4 348.4L68.28 346.8L68.28 350Z" fill="#d62728"/>
<path d="M85.1 369.8L87.98 368.2L87.98 371.4Z" fill="#d62728"/>
<path d="M104.8 380.5L107.68 378.9L107.68 382.1Z" fill="#d62728"/>
<path d="M124.5 402L127.38 400.4L127.38 403.6Z" fill="#d62728"/>
<path d="M144.2 429.8L147.08 428.2L147.08 431.4Z" fill="#d62728"/>
<path d="M163.9 435.1L166.78 433.5L166.78 436.7Z" fill="#d62728"/>
<path d="M183.6 446.8L186.48 445.2L186.48 448.4Z" fill="#d62728"/>
<path d="M203.3 406.7L206.18 405.1L206.18 408.3Z" fill="#d62728"/>
<path d="M223 370.9L225.88 369.3L225.88 372.5Z" fill="#d62728"/>
<path d="M242.7 361.5L245.58 359.9L245.58 363.1Z" fill="#d62728"/>
<path d="M262.4 345.7L265.28 344.1L265.28 347.3Z" fill="#d62728"/>
<path d="M47.3 338.4 L67 357.9 L86.7 373.9 L106.4 390.6 L126.1 406.2 L145.8 425.4 L165.5 447.1" fill="none" stroke="#9467bd" stroke-width="0.8" stroke-linejoin="round" stroke-linecap="butt" stroke-dasharray="0.9 1.4"/>
<path d="M47.3 336.5L49.2 338.4L47.3 340.3L45.4 338.4Z" fill="#9467bd"/>
<path d="M67 356L68.9 357.9L67 359.8L65.1 357.9Z" fill="#9467bd"/>
<path d="M86.7 372L88.6 373.9L86.7 375.8L84.8 373.9Z" fill="#9467bd"/>
<path d="M106.4 388.7L108.3 390.6L106.4 392.5L104.5 390.6Z" fill="#9467bd"/>
<path d="M126.1 404.3L128 406.2L126.1 408.1L124.2 406.2Z" fill="#9467bd"/>
<path d="M145.8 423.5L147.7 425.4L145.8 427.3L143.9 425.4Z" fill="#9467bd"/>
<path d="M165.5 445.2L167.4 447.1L165.5 449L163.6 447.1Z" fill="#9467bd"/>
</g>
<rect x="41.6" y="391.3" width="40.98" height="60.08" rx="1.6" fill="#fff" fill-opacity="0.82" stroke="#dcdcdc" stroke-width="0.6"/>
<text transform="translate(61.89 398.96) scale(1 1.08)" text-anchor="middle" font-size="7.0" fill="#262626" class="lt">Year</text>
<path d="M45.16 406.5H57.24" stroke="#1f77b4" stroke-width="1" stroke-dasharray="1.0 1.1" stroke-opacity="0.55"/>
<path d="M49.9 405.2L52.5 407.8M49.9 407.8L52.5 405.2" stroke="#1f77b4" stroke-width="0.9" fill="none"/>
<text transform="translate(62.98 409.06) scale(1 1.1)" font-size="7.2" fill="#262626" class="lt">2015</text>
<path d="M44.76 416.3H57.73" stroke="#ff7f0e" stroke-width="1.0"/>
<circle cx="51.2" cy="416.3" r="1.55" fill="#ff7f0e"/>
<text transform="translate(62.98 418.86) scale(1 1.1)" font-size="7.2" fill="#262626" class="lt">2016</text>
<path d="M44.96 426.1H57.44" stroke="#2ca02c" stroke-width="1.0" stroke-dasharray="3.7 1.3 0.9 1.3" stroke-opacity="0.8"/>
<path d="M51.2 424.4L52.9 427.46L49.5 427.46Z" fill="#2ca02c"/>
<text transform="translate(62.98 428.66) scale(1 1.1)" font-size="7.2" fill="#262626" class="lt">2017</text>
<path d="M43.08 435.9H59.71" stroke="#d62728" stroke-width="1.5" stroke-dasharray="1.4 2.45"/>
<path d="M49.6 435.9L52.48 434.3L52.48 437.5Z" fill="#d62728"/>
<text transform="translate(62.98 438.46) scale(1 1.1)" font-size="7.2" fill="#262626" class="lt">2018</text>
<path d="M43.08 445.7H59.71" stroke="#9467bd" stroke-width="1.5" stroke-dasharray="1.4 2.45"/>
<path d="M51.2 443.8L53.1 445.7L51.2 447.6L49.3 445.7Z" fill="#9467bd"/>
<text transform="translate(62.98 448.26) scale(1 1.1)" font-size="7.2" fill="#262626" class="lt">2019</text>
<rect x="298.4" y="317.6" width="246.1" height="137.2" fill="#fff" stroke="#c2c2c2" stroke-width="1"/>
<path d="M308.2 455.3V456.6" stroke="#999" stroke-width="0.75"/>
<text transform="translate(308.2 462.8) scale(1 1.12)" text-anchor="middle" font-size="7.15" fill="#262626" class="t">1</text>
<path d="M328.73 455.3V456.6" stroke="#999" stroke-width="0.75"/>
<text transform="translate(328.73 462.8) scale(1 1.12)" text-anchor="middle" font-size="7.15" fill="#262626" class="t">2</text>
<path d="M349.26 455.3V456.6" stroke="#999" stroke-width="0.75"/>
<text transform="translate(349.26 462.8) scale(1 1.12)" text-anchor="middle" font-size="7.15" fill="#262626" class="t">3</text>
<path d="M369.79 455.3V456.6" stroke="#999" stroke-width="0.75"/>
<text transform="translate(369.79 462.8) scale(1 1.12)" text-anchor="middle" font-size="7.15" fill="#262626" class="t">4</text>
<path d="M390.32 455.3V456.6" stroke="#999" stroke-width="0.75"/>
<text transform="translate(390.32 462.8) scale(1 1.12)" text-anchor="middle" font-size="7.15" fill="#262626" class="t">5</text>
<path d="M410.85 455.3V456.6" stroke="#999" stroke-width="0.75"/>
<text transform="translate(410.85 462.8) scale(1 1.12)" text-anchor="middle" font-size="7.15" fill="#262626" class="t">6</text>
<path d="M431.38 455.3V456.6" stroke="#999" stroke-width="0.75"/>
<text transform="translate(431.38 462.8) scale(1 1.12)" text-anchor="middle" font-size="7.15" fill="#262626" class="t">7</text>
<path d="M451.91 455.3V456.6" stroke="#999" stroke-width="0.75"/>
<text transform="translate(451.91 462.8) scale(1 1.12)" text-anchor="middle" font-size="7.15" fill="#262626" class="t">8</text>
<path d="M472.44 455.3V456.6" stroke="#999" stroke-width="0.75"/>
<text transform="translate(472.44 462.8) scale(1 1.12)" text-anchor="middle" font-size="7.15" fill="#262626" class="t">9</text>
<path d="M492.97 455.3V456.6" stroke="#999" stroke-width="0.75"/>
<text transform="translate(492.97 462.8) scale(1 1.12)" text-anchor="middle" font-size="7.15" fill="#262626" class="t">10</text>
<path d="M513.5 455.3V456.6" stroke="#999" stroke-width="0.75"/>
<text transform="translate(513.5 462.8) scale(1 1.12)" text-anchor="middle" font-size="7.15" fill="#262626" class="t">11</text>
<path d="M534.03 455.3V456.6" stroke="#999" stroke-width="0.75"/>
<text transform="translate(534.03 462.8) scale(1 1.12)" text-anchor="middle" font-size="7.15" fill="#262626" class="t">12</text>
<path d="M297.9 448.81H296.6" stroke="#999" stroke-width="0.75"/>
<text transform="translate(296 451.53) scale(1 1.2)" text-anchor="end" font-size="7.15" fill="#262626" class="t">3</text>
<path d="M297.9 432.08H296.6" stroke="#999" stroke-width="0.75"/>
<text transform="translate(296 434.8) scale(1 1.2)" text-anchor="end" font-size="7.15" fill="#262626" class="t">4</text>
<path d="M297.9 415.35H296.6" stroke="#999" stroke-width="0.75"/>
<text transform="translate(296 418.07) scale(1 1.2)" text-anchor="end" font-size="7.15" fill="#262626" class="t">5</text>
<path d="M297.9 398.62H296.6" stroke="#999" stroke-width="0.75"/>
<text transform="translate(296 401.34) scale(1 1.2)" text-anchor="end" font-size="7.15" fill="#262626" class="t">6</text>
<path d="M297.9 381.89H296.6" stroke="#999" stroke-width="0.75"/>
<text transform="translate(296 384.61) scale(1 1.2)" text-anchor="end" font-size="7.15" fill="#262626" class="t">7</text>
<path d="M297.9 365.16H296.6" stroke="#999" stroke-width="0.75"/>
<text transform="translate(296 367.88) scale(1 1.2)" text-anchor="end" font-size="7.15" fill="#262626" class="t">8</text>
<path d="M297.9 348.43H296.6" stroke="#999" stroke-width="0.75"/>
<text transform="translate(296 351.15) scale(1 1.2)" text-anchor="end" font-size="7.15" fill="#262626" class="t">9</text>
<path d="M297.9 331.7H296.6" stroke="#999" stroke-width="0.75"/>
<text transform="translate(296 334.42) scale(1 1.2)" text-anchor="end" font-size="7.15" fill="#262626" class="t">10</text>
<text transform="translate(284.3 387.6) rotate(-90)" text-anchor="middle" font-size="9.8" fill="#262626" textLength="99" lengthAdjust="spacingAndGlyphs" class="yl">DAILYEXMAXWINDV</text>
<text x="421.45" y="472.8" text-anchor="middle" font-size="10.2" fill="#262626" textLength="30.2" lengthAdjust="spacingAndGlyphs" class="mo">Month</text>
<g clip-path="none">
<path d="M308.2 373.4 L328.73 377.8 L349.26 385.5 L369.79 369.5 L390.32 326.3 L410.85 323.8 L431.38 337.9 L451.91 362 L472.44 381.8 L492.97 378.5 L513.5 382.7 L534.03 378" fill="none" stroke="#1f77b4" stroke-width="1.05" stroke-linejoin="round" stroke-linecap="butt" stroke-dasharray="2.7 1.6"/>
<path d="M306.9 372.1L309.5 374.7M306.9 374.7L309.5 372.1" stroke="#1f77b4" stroke-width="0.9" fill="none"/>
<path d="M327.43 376.5L330.03 379.1M327.43 379.1L330.03 376.5" stroke="#1f77b4" stroke-width="0.9" fill="none"/>
<path d="M347.96 384.2L350.56 386.8M347.96 386.8L350.56 384.2" stroke="#1f77b4" stroke-width="0.9" fill="none"/>
<path d="M368.49 368.2L371.09 370.8M368.49 370.8L371.09 368.2" stroke="#1f77b4" stroke-width="0.9" fill="none"/>
<path d="M389.02 325L391.62 327.6M389.02 327.6L391.62 325" stroke="#1f77b4" stroke-width="0.9" fill="none"/>
<path d="M409.55 322.5L412.15 325.1M409.55 325.1L412.15 322.5" stroke="#1f77b4" stroke-width="0.9" fill="none"/>
<path d="M430.08 336.6L432.68 339.2M430.08 339.2L432.68 336.6" stroke="#1f77b4" stroke-width="0.9" fill="none"/>
<path d="M450.61 360.7L453.21 363.3M450.61 363.3L453.21 360.7" stroke="#1f77b4" stroke-width="0.9" fill="none"/>
<path d="M471.14 380.5L473.74 383.1M471.14 383.1L473.74 380.5" stroke="#1f77b4" stroke-width="0.9" fill="none"/>
<path d="M491.67 377.2L494.27 379.8M491.67 379.8L494.27 377.2" stroke="#1f77b4" stroke-width="0.9" fill="none"/>
<path d="M512.2 381.4L514.8 384M512.2 384L514.8 381.4" stroke="#1f77b4" stroke-width="0.9" fill="none"/>
<path d="M532.73 376.7L535.33 379.3M532.73 379.3L535.33 376.7" stroke="#1f77b4" stroke-width="0.9" fill="none"/>
<path d="M308.2 364.2 L328.73 366 L349.26 375.5 L369.79 360.1 L390.32 356.7 L410.85 361.4 L431.38 352.6 L451.91 363.6 L472.44 375.1 L492.97 360.5 L513.5 370 L534.03 367.5" fill="none" stroke="#ff7f0e" stroke-width="1.0" stroke-linejoin="round" stroke-linecap="butt"/>
<circle cx="308.2" cy="364.2" r="1.55" fill="#ff7f0e"/>
<circle cx="328.73" cy="366" r="1.55" fill="#ff7f0e"/>
<circle cx="349.26" cy="375.5" r="1.55" fill="#ff7f0e"/>
<circle cx="369.79" cy="360.1" r="1.55" fill="#ff7f0e"/>
<circle cx="390.32" cy="356.7" r="1.55" fill="#ff7f0e"/>
<circle cx="410.85" cy="361.4" r="1.55" fill="#ff7f0e"/>
<circle cx="431.38" cy="352.6" r="1.55" fill="#ff7f0e"/>
<circle cx="451.91" cy="363.6" r="1.55" fill="#ff7f0e"/>
<circle cx="472.44" cy="375.1" r="1.55" fill="#ff7f0e"/>
<circle cx="492.97" cy="360.5" r="1.55" fill="#ff7f0e"/>
<circle cx="513.5" cy="370" r="1.55" fill="#ff7f0e"/>
<circle cx="534.03" cy="367.5" r="1.55" fill="#ff7f0e"/>
<path d="M308.2 386 L328.73 365.8 L349.26 358.2 L369.79 369.5 L390.32 425.2 L410.85 411 L431.38 428.8 L451.91 425.4 L472.44 429.6 L492.97 410.5 L513.5 425.8 L534.03 418.2" fill="none" stroke="#2ca02c" stroke-width="1.0" stroke-linejoin="round" stroke-linecap="butt" stroke-dasharray="4.2 1.3 0.8 1.3"/>
<path d="M308.2 384.3L309.9 387.36L306.5 387.36Z" fill="#2ca02c"/>
<path d="M328.73 364.1L330.43 367.16L327.03 367.16Z" fill="#2ca02c"/>
<path d="M349.26 356.5L350.96 359.56L347.56 359.56Z" fill="#2ca02c"/>
<path d="M369.79 367.8L371.49 370.86L368.09 370.86Z" fill="#2ca02c"/>
<path d="M390.32 423.5L392.02 426.56L388.62 426.56Z" fill="#2ca02c"/>
<path d="M410.85 409.3L412.55 412.36L409.15 412.36Z" fill="#2ca02c"/>
<path d="M431.38 427.1L433.08 430.16L429.68 430.16Z" fill="#2ca02c"/>
<path d="M451.91 423.7L453.61 426.76L450.21 426.76Z" fill="#2ca02c"/>
<path d="M472.44 427.9L474.14 430.96L470.74 430.96Z" fill="#2ca02c"/>
<path d="M492.97 408.8L494.67 411.86L491.27 411.86Z" fill="#2ca02c"/>
<path d="M513.5 424.1L515.2 427.16L511.8 427.16Z" fill="#2ca02c"/>
<path d="M534.03 416.5L535.73 419.56L532.33 419.56Z" fill="#2ca02c"/>
<path d="M308.2 423.9 L328.73 426.7 L349.26 429.8 L369.79 435 L390.32 419.5 L410.85 413.2 L431.38 421.9 L451.91 427.8 L472.44 425.1 L492.97 429.5 L513.5 420.4 L534.03 421.8" fill="none" stroke="#d62728" stroke-width="0.95" stroke-linejoin="round" stroke-linecap="butt" stroke-dasharray="1.0 1.3"/>
<path d="M306.6 423.9L309.48 422.3L309.48 425.5Z" fill="#d62728"/>
<path d="M327.13 426.7L330.01 425.1L330.01 428.3Z" fill="#d62728"/>
<path d="M347.66 429.8L350.54 428.2L350.54 431.4Z" fill="#d62728"/>
<path d="M368.19 435L371.07 433.4L371.07 436.6Z" fill="#d62728"/>
<path d="M388.72 419.5L391.6 417.9L391.6 421.1Z" fill="#d62728"/>
<path d="M409.25 413.2L412.13 411.6L412.13 414.8Z" fill="#d62728"/>
<path d="M429.78 421.9L432.66 420.3L432.66 423.5Z" fill="#d62728"/>
<path d="M450.31 427.8L453.19 426.2L453.19 429.4Z" fill="#d62728"/>
<path d="M470.84 425.1L473.72 423.5L473.72 426.7Z" fill="#d62728"/>
<path d="M491.37 429.5L494.25 427.9L494.25 431.1Z" fill="#d62728"/>
<path d="M511.9 420.4L514.78 418.8L514.78 422Z" fill="#d62728"/>
<path d="M532.43 421.8L535.31 420.2L535.31 423.4Z" fill="#d62728"/>
<path d="M308.2 440.2 L328.73 425.2 L349.26 419 L369.79 427.2 L390.32 422.7 L410.85 428 L431.38 447" fill="none" stroke="#9467bd" stroke-width="0.8" stroke-linejoin="round" stroke-linecap="butt" stroke-dasharray="0.9 1.4"/>
<path d="M308.2 438.3L310.1 440.2L308.2 442.1L306.3 440.2Z" fill="#9467bd"/>
<path d="M328.73 423.3L330.63 425.2L328.73 427.1L326.83 425.2Z" fill="#9467bd"/>
<path d="M349.26 417.1L351.16 419L349.26 420.9L347.36 419Z" fill="#9467bd"/>
<path d="M369.79 425.3L371.69 427.2L369.79 429.1L367.89 427.2Z" fill="#9467bd"/>
<path d="M390.32 420.8L392.22 422.7L390.32 424.6L388.42 422.7Z" fill="#9467bd"/>
<path d="M410.85 426.1L412.75 428L410.85 429.9L408.95 428Z" fill="#9467bd"/>
<path d="M431.38 445.1L433.28 447L431.38 448.9L429.48 447Z" fill="#9467bd"/>
</g>
<rect x="498.4" y="321.2" width="43.29" height="60.74" rx="1.6" fill="#fff" fill-opacity="0.82" stroke="#dcdcdc" stroke-width="0.6"/>
<text transform="translate(519.84 329.17) scale(1 1.08)" text-anchor="middle" font-size="7.0" fill="#262626" class="lt">Year</text>
<path d="M502.18 336.4H514.92" stroke="#1f77b4" stroke-width="1" stroke-dasharray="1.0 1.1" stroke-opacity="0.55"/>
<path d="M507.25 335.1L509.85 337.7M507.25 337.7L509.85 335.1" stroke="#1f77b4" stroke-width="0.9" fill="none"/>
<text transform="translate(520.99 339.1) scale(1 1.1)" font-size="7.6" fill="#262626" class="lt">2015</text>
<path d="M501.76 346.2H515.45" stroke="#ff7f0e" stroke-width="1.0"/>
<circle cx="508.55" cy="346.2" r="1.55" fill="#ff7f0e"/>
<text transform="translate(520.99 348.9) scale(1 1.1)" font-size="7.6" fill="#262626" class="lt">2016</text>
<path d="M501.97 356H515.13" stroke="#2ca02c" stroke-width="1.0" stroke-dasharray="3.7 1.3 0.9 1.3" stroke-opacity="0.8"/>
<path d="M508.55 354.3L510.25 357.36L506.85 357.36Z" fill="#2ca02c"/>
<text transform="translate(520.99 358.7) scale(1 1.1)" font-size="7.6" fill="#262626" class="lt">2017</text>
<path d="M499.98 365.8H517.54" stroke="#d62728" stroke-width="1.5" stroke-dasharray="1.4 2.45"/>
<path d="M506.95 365.8L509.83 364.2L509.83 367.4Z" fill="#d62728"/>
<text transform="translate(520.99 368.5) scale(1 1.1)" font-size="7.6" fill="#262626" class="lt">2018</text>
<path d="M499.98 375.6H517.54" stroke="#9467bd" stroke-width="1.5" stroke-dasharray="1.4 2.45"/>
<path d="M508.55 373.7L510.45 375.6L508.55 377.5L506.65 375.6Z" fill="#9467bd"/>
<text transform="translate(520.99 378.3) scale(1 1.1)" font-size="7.6" fill="#262626" class="lt">2019</text>
</svg>
</body></html>
